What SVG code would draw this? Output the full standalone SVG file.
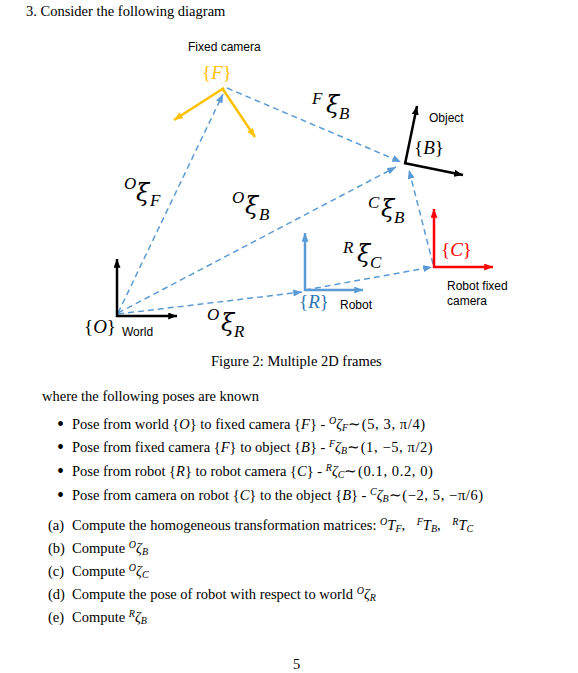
<svg xmlns="http://www.w3.org/2000/svg" width="578" height="673" viewBox="0 0 578 673">
<style>
.body{font-family:"Liberation Serif","Times New Roman",serif;font-size:14.5px;fill:#000}
.it{font-style:italic}
.sm{font-size:10px}
.mp{letter-spacing:0.6px}
.cs{letter-spacing:4px}
.bul{font-size:20px}
.lab{font-family:"Liberation Sans",Arial,sans-serif;font-size:12px;fill:#000}
.fl{font-family:"Liberation Serif","Times New Roman",serif;font-size:19px}
.ml{font-family:"Liberation Serif","Times New Roman",serif;font-style:italic;fill:#000}
.s{font-size:17px}
.g{font-family:"DejaVu Serif",serif;font-size:24px}
.dash{stroke:#5B9BD5;stroke-width:1.5;stroke-dasharray:6 4;fill:none}
.ax{stroke-width:2.5;fill:none}
</style>
<defs>
<marker id="ah-blue" viewBox="0 0 10 8" refX="10" refY="4" markerWidth="9" markerHeight="7" orient="auto" markerUnits="userSpaceOnUse"><path d="M0,0L10,4L0,8z" fill="#5B9BD5"/></marker>
<marker id="ah-black" viewBox="0 0 10 8" refX="10" refY="4" markerWidth="9" markerHeight="7" orient="auto" markerUnits="userSpaceOnUse"><path d="M0,0L10,4L0,8z" fill="#000"/></marker>
<marker id="ah-orange" viewBox="0 0 10 8" refX="10" refY="4" markerWidth="9" markerHeight="7" orient="auto" markerUnits="userSpaceOnUse"><path d="M0,0L10,4L0,8z" fill="#FFC000"/></marker>
<marker id="ah-red" viewBox="0 0 10 8" refX="10" refY="4" markerWidth="9" markerHeight="7" orient="auto" markerUnits="userSpaceOnUse"><path d="M0,0L10,4L0,8z" fill="#FF0000"/></marker>
</defs>

<text class="body" x="26" y="16">3. Consider the following diagram</text>

<g id="connectors">
<line class="dash" x1="118" y1="313" x2="223" y2="94" marker-end="url(#ah-blue)"/>
<line class="dash" x1="227" y1="88" x2="401" y2="162" marker-end="url(#ah-blue)"/>
<line class="dash" x1="118" y1="313" x2="396" y2="167" marker-end="url(#ah-blue)"/>
<line class="dash" x1="118" y1="314" x2="302" y2="292" marker-end="url(#ah-blue)"/>
<line class="dash" x1="305" y1="290" x2="432" y2="267" marker-end="url(#ah-blue)"/>
<line class="dash" x1="433" y1="264" x2="409" y2="170" marker-end="url(#ah-blue)"/>
</g>

<g id="frame-O">
<line class="ax" stroke="#000" x1="117" y1="317" x2="117" y2="259" marker-end="url(#ah-black)"/>
<line class="ax" stroke="#000" x1="116" y1="316" x2="177" y2="316" marker-end="url(#ah-black)"/>
<text class="fl" x="84" y="333" fill="#000">{<tspan class="it">O</tspan>}</text>
<text class="lab" x="122" y="336" font-size="11.5">World</text>
</g>

<g id="frame-F">
<line class="ax" stroke="#FFC000" x1="224" y1="88" x2="174" y2="120" marker-end="url(#ah-orange)"/>
<line class="ax" stroke="#FFC000" x1="222" y1="88" x2="255" y2="137" marker-end="url(#ah-orange)"/>
<text class="fl" x="202" y="79" fill="#FFC000">{<tspan class="it">F</tspan>}</text>
<text class="lab" x="188" y="51">Fixed camera</text>
</g>

<g id="frame-B">
<line class="ax" stroke="#000" x1="405" y1="164" x2="417" y2="106" marker-end="url(#ah-black)"/>
<line class="ax" stroke="#000" x1="404" y1="163" x2="463" y2="175" marker-end="url(#ah-black)"/>
<text class="fl" x="414" y="154" fill="#000" font-size="18">{<tspan class="it">B</tspan>}</text>
<text class="lab" x="429" y="122">Object</text>
</g>

<g id="frame-R">
<line class="ax" stroke="#5B9BD5" x1="305" y1="291" x2="305" y2="233" marker-end="url(#ah-blue)"/>
<line class="ax" stroke="#5B9BD5" x1="304" y1="290" x2="363" y2="290" marker-end="url(#ah-blue)"/>
<text class="fl" x="299" y="308" fill="#2E75B6">{<tspan class="it">R</tspan>}</text>
<text class="lab" x="340" y="309">Robot</text>
</g>

<g id="frame-C">
<line class="ax" stroke="#FF0000" x1="434" y1="268" x2="434" y2="209" marker-end="url(#ah-red)"/>
<line class="ax" stroke="#FF0000" x1="433" y1="267" x2="493" y2="267" marker-end="url(#ah-red)"/>
<text class="fl" x="441" y="256" fill="#FF0000">{<tspan class="it">C</tspan>}</text>
<text class="lab" x="447" y="290">Robot fixed</text>
<text class="lab" x="447" y="305">camera</text>
</g>

<g id="pose-labels">
<text class="ml"><tspan class="s" x="124" y="189">O</tspan><tspan class="g" x="136" y="201">ξ</tspan><tspan class="s" x="150" y="206">F</tspan></text>
<text class="ml"><tspan class="s" x="232" y="203">O</tspan><tspan class="g" x="245" y="214">ξ</tspan><tspan class="s" x="259" y="220">B</tspan></text>
<text class="ml"><tspan class="s" x="207" y="320">O</tspan><tspan class="g" x="221" y="331">ξ</tspan><tspan class="s" x="234" y="337">R</tspan></text>
<text class="ml"><tspan class="s" x="312" y="104">F</tspan><tspan class="g" x="326" y="113">ξ</tspan><tspan class="s" x="339" y="119">B</tspan></text>
<text class="ml"><tspan class="s" x="368" y="208">C</tspan><tspan class="g" x="381" y="217">ξ</tspan><tspan class="s" x="394" y="223">B</tspan></text>
<text class="ml"><tspan class="s" x="343" y="253">R</tspan><tspan class="g" x="357" y="262">ξ</tspan><tspan class="s" x="370" y="268">C</tspan></text>
</g>

<text class="body" x="211" y="366">Figure 2: Multiple 2D frames</text>

<g id="text-block">
<text class="body" x="42" y="401">where the following poses are known</text>
<text class="body bul" x="57" y="431">•</text>
<text class="body" x="72" y="429">Pose from world {<tspan class="it">O</tspan>} to fixed camera {<tspan class="it">F</tspan>} - <tspan class="it sm" dy="-5">O</tspan><tspan class="it" dy="5">ζ</tspan><tspan class="it sm" dy="2">F</tspan><tspan class="mp" dy="-2">∼(5, 3, π/4)</tspan></text>
<text class="body bul" x="57" y="454">•</text>
<text class="body" x="72" y="452">Pose from fixed camera {<tspan class="it">F</tspan>} to object {<tspan class="it">B</tspan>} - <tspan class="it sm" dy="-5">F</tspan><tspan class="it" dy="5">ζ</tspan><tspan class="it sm" dy="2">B</tspan><tspan class="mp" dy="-2">∼(1, −5, π/2)</tspan></text>
<text class="body bul" x="57" y="478">•</text>
<text class="body" x="72" y="476">Pose from robot {<tspan class="it">R</tspan>} to robot camera {<tspan class="it">C</tspan>} - <tspan class="it sm" dy="-5">R</tspan><tspan class="it" dy="5">ζ</tspan><tspan class="it sm" dy="2">C</tspan><tspan class="mp" dy="-2">∼(0.1, 0.2, 0)</tspan></text>
<text class="body bul" x="57" y="502">•</text>
<text class="body" x="72" y="500">Pose from camera on robot {<tspan class="it">C</tspan>} to the object {<tspan class="it">B</tspan>} - <tspan class="it sm" dy="-5">C</tspan><tspan class="it" dy="5">ζ</tspan><tspan class="it sm" dy="2">B</tspan><tspan class="mp" dy="-2">∼(−2, 5, −π/6)</tspan></text>

<text class="body" x="48" y="530">(a)</text>
<text class="body" x="72" y="530">Compute the homogeneous transformation matrices: <tspan class="it sm" dy="-5">O</tspan><tspan class="it" dy="5">T</tspan><tspan class="it sm" dy="2">F</tspan><tspan class="cs" dy="-2">, </tspan><tspan class="it sm" dy="-5">F</tspan><tspan class="it" dy="5">T</tspan><tspan class="it sm" dy="2">B</tspan><tspan class="cs" dy="-2">, </tspan><tspan class="it sm" dy="-5">R</tspan><tspan class="it" dy="5">T</tspan><tspan class="it sm" dy="2">C</tspan></text>
<text class="body" x="48" y="553">(b)</text>
<text class="body" x="72" y="553">Compute <tspan class="it sm" dy="-5">O</tspan><tspan class="it" dy="5">ζ</tspan><tspan class="it sm" dy="2">B</tspan></text>
<text class="body" x="48" y="576">(c)</text>
<text class="body" x="72" y="576">Compute <tspan class="it sm" dy="-5">O</tspan><tspan class="it" dy="5">ζ</tspan><tspan class="it sm" dy="2">C</tspan></text>
<text class="body" x="48" y="599">(d)</text>
<text class="body" x="72" y="599">Compute the pose of robot with respect to world <tspan class="it sm" dy="-5">O</tspan><tspan class="it" dy="5">ζ</tspan><tspan class="it sm" dy="2">R</tspan></text>
<text class="body" x="48" y="622">(e)</text>
<text class="body" x="72" y="622">Compute <tspan class="it sm" dy="-5">R</tspan><tspan class="it" dy="5">ζ</tspan><tspan class="it sm" dy="2">B</tspan></text>

<text class="body" x="293" y="669" font-size="13">5</text>
</g>
</svg>
